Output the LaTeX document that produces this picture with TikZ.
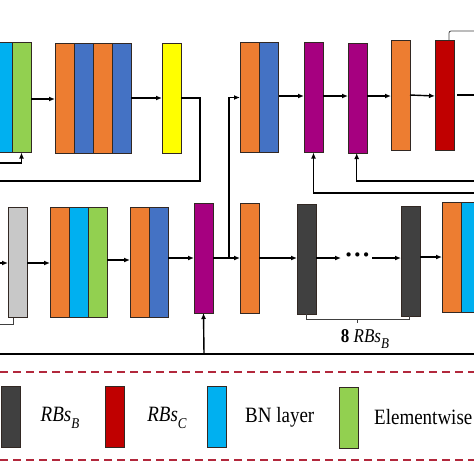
\documentclass[tikz,border=0pt]{standalone}
\usepackage{fontspec}
\setmainfont{Liberation Serif}
\usetikzlibrary{arrows.meta}
\definecolor{cOr}{RGB}{237,125,49}
\definecolor{cBl}{RGB}{68,114,196}
\definecolor{cCy}{RGB}{0,176,240}
\definecolor{cGr}{RGB}{146,208,80}
\definecolor{cYe}{RGB}{255,255,0}
\definecolor{cPu}{RGB}{166,0,128}
\definecolor{cRe}{RGB}{192,0,0}
\definecolor{cDg}{RGB}{64,64,64}
\definecolor{cLg}{RGB}{200,200,200}
\definecolor{cDash}{RGB}{178,40,60}
\definecolor{cEdge}{RGB}{50,40,35}
\tikzset{
  blk/.style={draw=cEdge, line width=0.8pt, minimum width=19pt, minimum height=110pt, inner sep=0pt, outer sep=0pt},
  lgb/.style={draw=cEdge, line width=0.8pt, minimum width=19pt, minimum height=61pt, inner sep=0pt, outer sep=0pt},
  conn/.style={line width=1.4pt, -{Latex[length=6pt,width=5pt]}},
  line/.style={line width=1.4pt},
  thin/.style={line width=0.8pt, draw=black!75},
  dline/.style={line width=1.2pt, draw=cDash, dash pattern=on 8pt off 5pt},
  lbl/.style={font=\fontsize{19}{22}\selectfont, inner sep=0pt}
}
\newcommand{\RBsub}[1]{\textit{RBs}\raisebox{-0.35em}{\fontsize{13}{14}\selectfont\textit{#1}}}
\newcommand{\tall}[1]{\scalebox{1}[1.15]{#1}}
\begin{document}
\begin{tikzpicture}[x=1pt,y=-1pt]
\useasboundingbox (0,0) rectangle (474,474);
\clip (0,0) rectangle (474,474);
% ---------- top row ----------
\node[blk, fill=cOr] (ta1) at (-16.5,97.5) {};
\node[blk, fill=cCy] (ta2) at (2.5,97.5) {};
\node[blk, fill=cGr] (ta3) at (21.5,97.5) {};
\node[blk, fill=cOr] (tb1) at (64.5,98) {};
\node[blk, fill=cBl] (tb2) at (83.5,98) {};
\node[blk, fill=cOr] (tb3) at (102.5,98) {};
\node[blk, fill=cBl] (tb4) at (121.5,98) {};
\node[blk, fill=cYe] (ty) at (171.5,98) {};
\node[blk, fill=cOr] (tc1) at (249.5,97.5) {};
\node[blk, fill=cBl] (tc2) at (269,97.5) {};
\node[blk, fill=cPu] (tp1) at (313.5,97.5) {};
\node[blk, fill=cPu] (tp2) at (357.5,98) {};
\node[blk, fill=cOr] (to) at (400.5,95.5) {};
\node[blk, fill=cRe] (tr) at (444.5,95) {};
% ---------- bottom row ----------
\node[blk, fill=cLg] (bg) at (17.5,262.5) {};
\node[blk, fill=cOr] (bb1) at (59.5,262) {};
\node[blk, fill=cCy] (bb2) at (78.5,262) {};
\node[blk, fill=cGr] (bb3) at (97.5,262) {};
\node[blk, fill=cOr] (bc1) at (139.5,262) {};
\node[blk, fill=cBl] (bc2) at (158.5,262) {};
\node[blk, fill=cPu] (bp) at (203.5,258) {};
\node[blk, fill=cOr] (bo) at (249.5,258) {};
\node[blk, fill=cDg] (bd1) at (306.5,259) {};
\node[blk, fill=cDg] (bd2) at (410.5,261) {};
\node[blk, fill=cOr] (be1) at (451.5,257) {};
\node[blk, fill=cCy] (be2) at (470.5,257) {};
% ---------- edge coordinates ----------
\coordinate (eL163) at (0,163);
\coordinate (eL181) at (0,181);
\coordinate (eR181) at (474,181);
\coordinate (eR193) at (474,193);
\coordinate (eR95s) at (457,95);
\coordinate (eR95) at (474,95);
\coordinate (eR31) at (474,31);
\coordinate (eL263) at (0,263);
\coordinate (eL354) at (0,354);
\coordinate (eR354) at (474,354);
\coordinate (jB) at (229,258);
\coordinate (jY) at (200,98);
\coordinate (jBot) at (204,354);
\coordinate (dA) at (341,258);
\coordinate (dB) at (372,258);
% ---------- top connectors ----------
\draw[conn] (ta3.east |- 0,99) -- (tb1.west |- 0,99);
\draw[conn] (tb4.east) -- (ty.west);
\draw[line] (ty.east) -- (jY) |- (eL181);
\draw[conn] (eL163) -| (ta3.south);
\draw[conn] (jB) |- (tc1.west);
\draw[conn] (tc2.east |- 0,96) -- (tp1.west |- 0,96);
\draw[conn] (tp1.east |- 0,96) -- (tp2.west |- 0,96);
\draw[conn] (tp2.east |- 0,96) -- (to.west |- 0,96);
\draw[conn] (to.east |- 0,95) -- (tr.west |- 0,96);
\draw[line] (eR95s) -- (eR95);
\draw[thin, rounded corners=2pt] (tr.north -| 449,0) -- (449,31) -- (eR31);
\draw[conn] (eR193) -| (tp1.south);
\draw[conn] (eR181) -| (tp2.south -| 356.7,0);
% ---------- bottom connectors ----------
\draw[conn] (eL263) -- (bg.west |- 0,263);
\draw[conn] (bg.east |- 0,263) -- (bb1.west |- 0,263);
\draw[conn] (bb3.east |- 0,260) -- (bc1.west |- 0,260);
\draw[conn] (bc2.east |- 0,258) -- (bp.west);
\draw[conn] (bp.east) -- (bo.west);
\draw[conn] (bo.east) -- (bd1.west |- 0,258);
\draw[conn] (bd1.east |- 0,258) -- (dA);
\node[inner sep=0pt, font=\fontsize{26}{26}\selectfont\bfseries] (dots) at (357.5,258.5) {···};
\draw[conn] (dB) -- (bd2.west |- 0,258);
\draw[conn] (bd2.east |- 0,257) -- (be1.west);
\draw[line] (eL354) -- (eR354);
\draw[conn] (jBot) -- (bp.south);
% braces
\draw[thin] (306,314) -- (306,319) -- (409,319) -- (409,314);
\draw[thin] (357,319) -- (357,323);
\node[inner sep=0pt, font=\fontsize{17}{20}\selectfont] (brl) at (365,339) {\tall{\textbf{8} \RBsub{B}}};
\draw[thin] (0,324) -- (13,324) -- (13,318);
% ---------- legend ----------
\draw[dline] (0,372) -- (474,372);
\draw[dline] (0,460) -- (474,460);
\node[lgb, fill=cDg] (l1) at (10.5,416.5) {};
\node[lbl] (l1t) at (60,418) {\tall{\RBsub{B}}};
\node[lgb, fill=cRe] (l2) at (114.5,416.5) {};
\node[lbl] (l2t) at (167,418) {\tall{\RBsub{C}}};
\node[lgb, fill=cCy] (l3) at (216.5,417) {};
\node[lbl, anchor=west] (l3t) at (245,417) {\tall{BN layer}};
\node[lgb, fill=cGr] (l4) at (348.5,417.5) {};
\node[lbl, anchor=west] (l4t) at (374,417) {\tall{Elementwise}};
\end{tikzpicture}
\end{document}
